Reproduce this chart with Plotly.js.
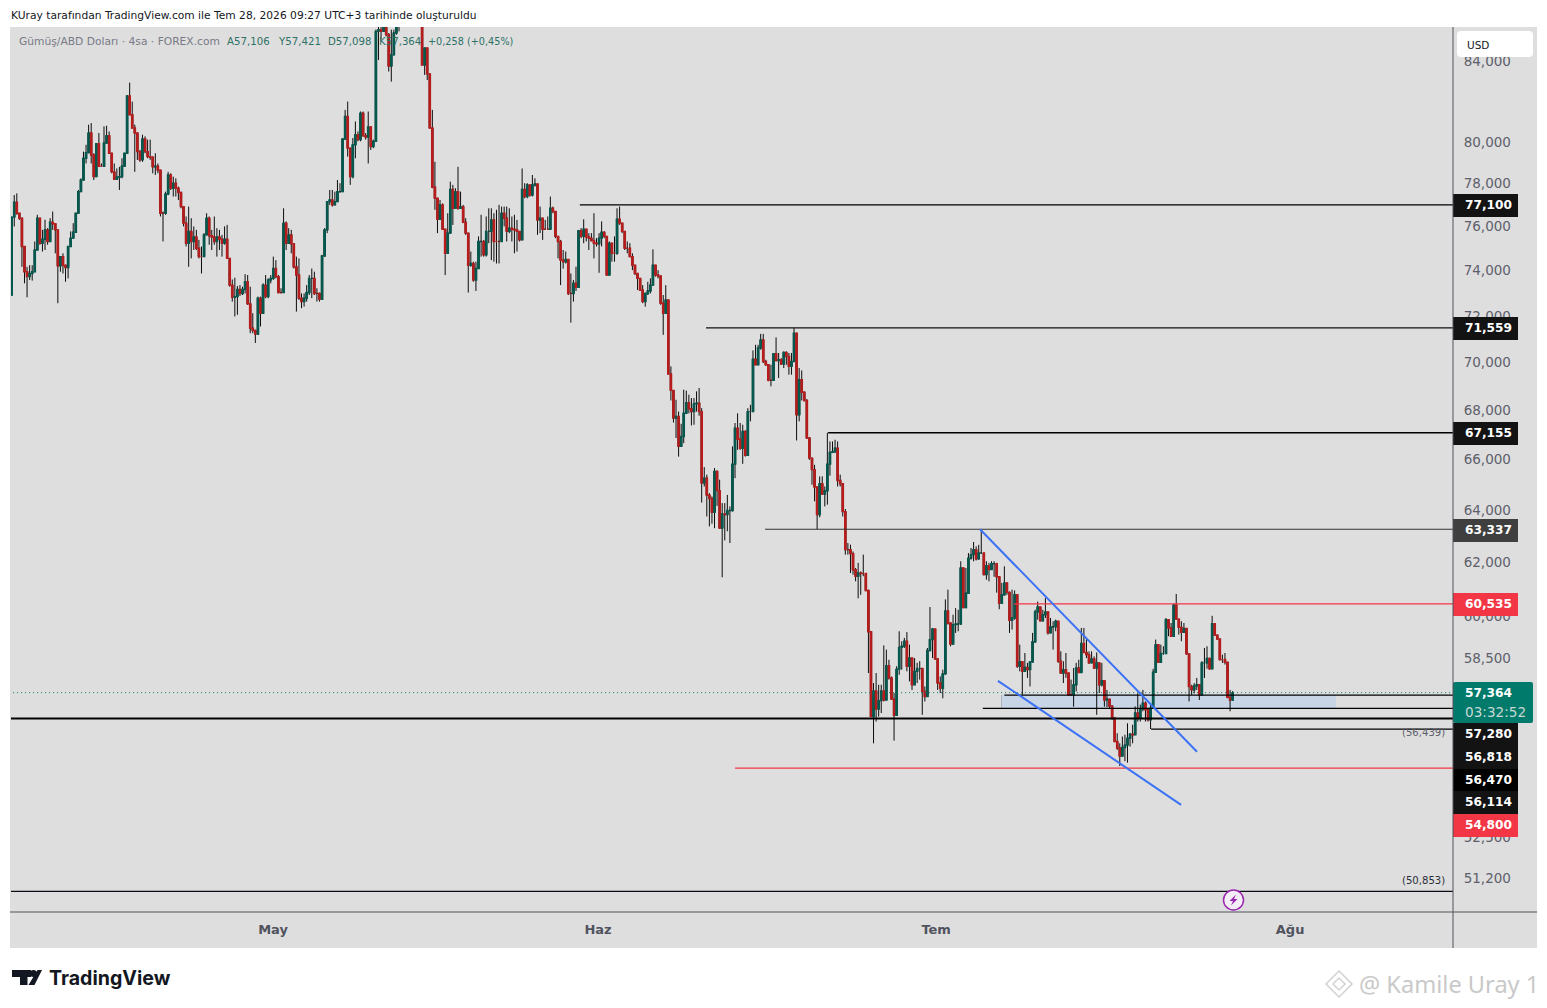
<!DOCTYPE html>
<html><head><meta charset="utf-8">
<script src="https://cdn.plot.ly/plotly-3.0.1.min.js"></script>
<style>html,body{margin:0;padding:0;background:#fff;overflow:hidden}#c{width:1547px;height:1008px}</style>
</head><body><div id="c"></div>
<script>
const opens = [73000,76530,77220,76710,76480,75180,74040,73820,73960,74040,
75020,76480,75330,75510,75940,75410,76290,76220,75940,74300,
74720,74330,74230,75180,75560,75830,76710,77720,78270,79310,
79580,80530,79470,78430,80010,78930,78930,80040,80400,79550,
78660,78300,78400,78430,78930,79550,82360,81430,80780,80530,
79630,79230,80240,79630,79390,79360,78900,78930,78740,76710,
76710,77610,78510,77880,78120,77880,77680,77020,76250,75330,
75870,75410,75610,75100,74720,74720,75710,76480,75670,75610,
75410,75610,75510,75330,75510,74640,73440,72900,72930,73250,
73070,73250,73590,72610,71550,71450,71290,72860,72200,73440,
72930,73670,73740,74180,73820,73110,73110,76250,75330,75710,
75300,74260,73890,72860,72710,72860,73110,73740,73740,73070,
73070,72810,74750,75940,77250,77330,77100,77250,77720,77720,
80240,81350,79800,78430,79960,80450,80210,81510,80400,80340,
80830,79880,80130,85650,85740,85650,86080,85480,83870,84440,
85565,86430,86600,86950,86770,87130,87040,86600,86770,86690,
86600,83920,84790,83470,80780,77930,77410,76430,77100,75970,
74870,75790,77830,76940,77720,76940,77020,76290,75790,74330,
74410,73670,74180,75410,75410,74800,75870,75870,76400,75410,
75410,75410,76710,76480,75870,76020,75970,75940,75870,75480,
77830,77490,78040,77560,78040,78080,76400,76480,75970,75970,
75970,76940,76790,75640,75410,74560,74490,74590,73070,73070,
73520,73340,75900,75640,75970,75610,75560,75450,75330,75300,
75560,75830,75640,73890,75330,74870,74870,76430,76250,75870,
75100,75100,74720,74330,73960,73740,73220,72710,73070,73180,
73440,74330,73890,73850,72640,72200,72780,69590,68900,67750,
67820,66600,67000,67950,68390,68140,68020,68340,68370,68020,
65140,65330,64660,64530,63990,65600,64840,63380,63930,63900,
64060,64060,65890,67340,66890,66520,67210,66240,68020,68020,
70220,69980,70690,71040,70120,69980,69320,69320,70450,70160,
70190,70010,70500,70330,69910,70120,71330,67890,69350,68820,
68480,66940,66130,65670,64980,63900,65110,64700,64830,65890,
66360,66390,66530,65240,65110,64020,62560,62560,62410,61800,
61560,61680,61660,61660,61030,59520,56540,57420,56800,57090,
57420,57110,58310,57880,57140,56580,58190,58960,59000,59180,
58290,58580,57640,58110,58210,58210,57410,57230,58850,59240,
59620,58550,57700,57520,58020,60280,59840,59080,59780,59800,
59800,61870,60400,60930,62240,62370,62560,62210,62430,62430,
61620,61950,61810,62030,62030,61540,60560,60870,61310,60960,
59940,60020,60870,58290,58450,58110,58250,58170,58440,59160,
60240,60420,59920,60140,60240,59480,59700,59700,59900,58470,
58050,58170,58050,57290,57290,57640,58230,58070,59100,58780,
58700,58410,58550,58230,58410,57640,57780,57110,57140,56900,
56490,55690,55470,55200,55490,55570,55800,55940,55920,56660,
56490,56800,57000,56770,56430,56830,58080,59060,58430,58740,
58740,59960,59660,59360,60500,59980,59680,59500,59640,58730,
57580,57460,57600,57640,57290,58410,58410,58570,58200,59810,
59400,59260,58530,58530,58430,57200,57106];
const closes = [76530,77220,76710,76480,75180,74040,73820,73960,74040,75020,
76480,75330,75510,75940,75410,76290,76220,75940,74300,74720,
74330,74230,75180,75560,75830,76710,77720,78270,79310,79580,
80530,79470,78430,80010,78930,78930,80040,80400,79550,78660,
78300,78400,78430,78930,79550,82360,81430,80780,80530,79630,
79230,80240,79630,79390,79360,78900,78930,78740,76710,76710,
77610,78510,77880,78120,77880,77680,77020,76250,75330,75870,
75410,75610,75100,74720,74720,75710,76480,75670,75610,75410,
75610,75510,75330,75510,74640,73440,72900,72930,73250,73070,
73250,73590,72610,71550,71450,71290,72860,72200,73440,72930,
73670,73740,74180,73820,73110,73110,76250,75330,75710,75300,
74260,73890,72860,72710,72860,73110,73740,73740,73070,73070,
72810,74750,75940,77250,77330,77100,77250,77720,77720,80240,
81350,79800,78430,79960,80450,80210,81510,80400,80340,80830,
79880,80130,85650,85740,85650,86080,85480,83870,84440,85565,
86430,86600,86950,86770,87130,87040,86600,86770,86690,86600,
83920,84790,83470,80780,77930,77410,76430,77100,75970,74870,
75790,77830,76940,77720,76940,77020,76290,75790,74330,74410,
73670,74180,75410,75410,74800,75870,75870,76400,75410,75410,
75410,76710,76480,75870,76020,75970,75940,75870,75480,77830,
77490,78040,77560,78040,78080,76400,76480,75970,75970,75970,
76940,76790,75640,75410,74560,74490,74590,73070,73070,73520,
73340,75900,75640,75970,75610,75560,75450,75330,75300,75560,
75830,75640,73890,75330,74870,74870,76430,76250,75870,75100,
75100,74720,74330,73960,73740,73220,72710,73070,73180,73440,
74330,73890,73850,72640,72200,72780,69590,68900,67750,67820,
66600,67000,67950,68390,68140,68020,68340,68370,68020,65140,
65330,64660,64530,63990,65600,64840,63380,63930,63900,64060,
64060,65890,67340,66890,66520,67210,66240,68020,68020,70220,
69980,70690,71040,70120,69980,69320,69320,70450,70160,70190,
70010,70500,70330,69910,70120,71330,67890,69350,68820,68480,
66940,66130,65670,64980,63900,65110,64700,64830,65890,66360,
66390,66530,65240,65110,64020,62560,62560,62410,61800,61560,
61680,61660,61660,61030,59520,56540,57420,56800,57090,57420,
57110,58310,57880,57140,56580,58190,58960,59000,59180,58290,
58580,57640,58110,58210,58210,57410,57230,58850,59240,59620,
58550,57700,57520,58020,60280,59840,59080,59780,59800,59800,
61870,60400,60930,62240,62370,62560,62210,62430,62430,61620,
61950,61810,62030,62030,61540,60560,60870,61310,60960,59940,
60020,60870,58290,58450,58110,58250,58170,58440,59160,60240,
60420,59920,60140,60240,59480,59700,59700,59900,58470,58050,
58170,58050,57290,57290,57640,58230,58070,59100,58780,58700,
58410,58550,58230,58410,57640,57780,57110,57140,56900,56490,
55690,55470,55200,55490,55570,55800,55940,55920,56660,56490,
56800,57000,56770,56430,56830,58080,59060,58430,58740,58740,
59960,59660,59360,60500,59980,59680,59500,59640,58730,57580,
57460,57600,57640,57290,58410,58410,58570,58200,59810,59400,
59260,58530,58530,58430,57200,57106,57364];
const highs = [76530,77560,77640,76710,76480,75180,74260,74330,74330,75410,
76640,76480,75940,76410,76020,76480,76790,76220,75940,74720,
74870,74330,75180,75870,76250,76710,77800,78350,79630,79960,
80940,81020,79550,80040,80530,79060,80860,80890,80610,79550,
79060,78820,78900,79310,79550,82410,83030,82080,80940,80530,
79710,80450,80370,80210,80210,79390,79550,79060,78740,76790,
77720,78660,78590,78430,78350,77960,77720,77020,76560,77020,
76480,76100,75940,75480,75180,75790,76710,76560,75940,76560,
76020,75940,75710,76100,76170,74640,73690,73770,73400,73440,
73370,73930,73890,73370,72200,71480,72930,72930,73520,73890,
73740,73890,74720,74560,73890,73300,76940,76330,76020,75940,
75330,74720,74640,73070,73070,73440,73890,74180,74040,73300,
73110,74800,76020,77250,77800,77800,77720,78270,78120,80290,
81670,82080,79800,80290,81100,80610,81590,81590,80530,81590,
80860,80210,85740,85910,86080,86600,86080,85565,85740,85740,
86770,87130,87470,87300,87650,87560,87130,87300,87210,87040,
86770,84790,83920,83470,81670,79140,77410,77330,77170,75940,
76710,78190,78040,77880,78900,77720,77100,76480,75790,74950,
74490,74490,75640,76640,75480,76560,76940,76940,76710,76870,
77100,77020,77020,77020,76940,76560,76640,76400,75790,78820,
78120,78120,78040,78510,78350,78080,77020,76480,76400,76560,
77490,77020,76790,75640,75480,75020,74950,74590,73960,73670,
74260,75940,76020,76430,75970,75790,75790,76710,75560,75790,
76330,75870,75640,75410,75330,75640,76940,77020,76250,75870,
75410,75330,74870,74330,73960,73740,73440,73110,73590,73740,
75050,74330,74110,73850,73000,73440,72780,69910,68900,68510,
68020,67520,68930,68890,68720,68580,68580,68860,69000,68160,
65770,65470,64740,64610,65730,65640,65270,64350,64350,64670,
64220,66600,67550,67950,67550,67480,67250,68160,68300,70590,
70830,70830,71300,71300,70190,69980,69980,70480,71150,70480,
70260,70550,70550,70480,70480,71550,71330,69840,69740,68860,
68540,66980,66130,65860,65000,65400,65400,65000,67155,66800,
66800,66870,66800,65470,65140,64120,62810,62750,62490,61870,
62060,61740,62370,61680,61060,59540,57700,58050,57640,57640,
59030,58880,58520,57930,57350,58290,59540,59180,59300,59510,
59060,58580,58580,58410,58470,58230,57580,58940,60420,59660,
59620,58580,57930,58170,60700,61060,59840,60140,60380,60320,
62120,61870,61870,62430,62620,62850,62680,62740,63337,62430,
62120,62060,62120,62120,62060,61560,61310,61930,61310,60990,
61060,61030,60870,59060,58470,58760,58410,58470,59480,60320,
60620,60420,60320,60750,60260,60020,59900,59960,59900,58820,
58470,58760,58050,57820,58230,58410,58520,59660,59660,59300,
58820,58820,58640,58780,58410,58410,57780,57460,57140,56930,
56430,55970,55630,55860,55920,56310,55970,56260,56890,57340,
56950,57460,57060,56830,57000,58200,59240,59060,59060,59000,
60020,59980,59840,60540,60900,59980,59900,59840,59640,58730,
57640,57700,57880,57640,58470,58940,59000,58590,60100,59810,
59420,59260,58700,58760,58430,57460,57421];
const lows = [73000,76100,76640,76400,74260,73520,72900,73670,73640,74040,
75260,75260,74950,75020,75260,75410,75940,74870,72640,74040,
73960,73590,73740,75180,75560,75830,76710,77720,78270,79060,
79550,79060,78270,78430,78900,78900,78930,80040,79520,78590,
78270,78270,77800,78350,78900,79550,81430,80780,78660,79230,
79140,79140,79550,79310,79230,78590,78510,78590,76560,75410,
76640,77560,77800,77490,77490,77330,76940,76100,75180,74260,
74640,75020,75020,74640,73960,74720,75710,75260,75020,75260,
74720,75020,74720,75260,74640,73370,72710,72060,72130,72960,
73000,73070,72570,71330,71330,70910,71260,71620,72200,72860,
72860,73520,73670,73740,73070,73070,73110,75020,75330,74870,
74180,72270,72780,72420,72490,72710,73000,72860,73000,72710,
72710,72810,74720,75790,77100,77020,77100,77330,77680,77720,
80210,79390,78040,78350,79310,80130,80130,80370,80210,79060,
79710,79800,80130,84180,85220,85650,85390,83590,83080,84440,
85480,85650,86430,86430,86600,86520,86260,86350,86260,86080,
83920,83420,83160,80780,77880,76870,75790,76400,75940,73890,
74870,75790,76170,76940,76870,76940,76250,75710,73110,74260,
73590,73180,74180,74720,74720,74720,75330,74560,74490,74410,
74410,75410,76100,75410,75790,75410,74870,74950,75410,75480,
77410,77410,77490,77490,77960,75710,75790,75480,75940,75940,
75940,76710,75560,74640,73440,74180,74410,73000,71790,72710,
73180,73340,75560,75330,75410,75020,75410,74640,75180,73990,
75180,75560,73850,73890,74490,74490,74800,76170,75790,75020,
74870,74690,74110,73890,73220,73180,72640,72490,73000,73070,
73440,73820,73740,72570,71260,72200,69590,68480,67570,66940,
66190,66600,66730,67950,67950,67450,67480,68020,67850,64370,
65000,63830,63450,63550,63380,64240,63350,61520,62910,63260,
62810,64020,65330,66460,66460,65900,66190,66240,67620,68020,
69980,69980,70620,70050,69940,69280,69070,69320,70120,69420,
69980,69840,69980,69560,69560,70120,66840,67620,68480,68440,
66900,66060,65070,64420,63337,63800,64670,64220,64290,65430,
66330,66330,65000,65000,63830,62370,62370,61680,61620,61370,
60740,60870,61560,61000,58050,56540,55630,56370,56540,56660,
57060,57230,57820,57110,55720,56580,57990,58170,58940,58110,
57760,57460,57760,57700,57820,56600,57060,57230,58820,58580,
58520,57460,57350,57170,57990,59780,59000,59060,59480,59540,
59780,60380,60380,60910,62180,62120,62150,62180,62430,61590,
61430,61370,61810,61540,60950,60340,60560,60840,60870,59480,
59600,59960,58230,58110,57290,58110,57880,57580,58440,59120,
59960,59900,59900,60020,59420,59480,58880,59540,58410,58030,
57700,57880,57260,57290,56880,57410,58050,58070,58760,58580,
58380,58410,58190,56600,57350,57580,56880,56860,56820,56430,
55670,55410,54870,55200,55030,54980,55520,55630,55920,56370,
56370,56720,56370,56370,56114,56830,58060,58410,58430,58700,
58740,59360,59340,59360,59960,59420,59180,59480,58700,57060,
57290,57340,57460,57110,57290,57880,58200,58170,58200,59380,
59240,58490,58410,58350,57170,56720,57098];

const scalePrices = [84000,80000,78000,76000,74000,72000,70000,68000,66000,64000,62000,60000,58500,52500,51200];
const scaleLabels = ['84,000','80,000','78,000','76,000','74,000','72,000','70,000','68,000','66,000','64,000','62,000','60,000','58,500','52,500','51,200'];
const monthBars = [101.9,228.6,360.4,498.4];
const monthLabels = ['May','Haz','Tem','Ağu'];

const levelPrices = [77100,71559,67155,63337,60535,57280,56818,56470,56114,54800,50853];
const levelStarts = [221.5,270.7,318.3,293.7,390.8,387,378.6,-1,444.2,282,-1];
const levelColors = ['#000','#111','#000','#333','#f23645','#000','#000','#000','#000','#f23645','#0a0d16'];
const levelWidths = [1.2,1.2,1.4,1.2,1.1,1.2,1.2,2,1.2,1.1,1.2];

const lastPrice = 57364;
const trendBars = [[377.5,462.1],[384.5,455.9]];
const trendPrices = [[63337,55346],[57778,53594]];
const zone = {b0:385.9,b1:516.3,p0:57280,p1:56818};

const topPrice = 85878, bottomPrice = 50223, lastBarSlot = 561.9;
const W=1547,H=1008,L=11,R=1453,T=27,B=912;
const px=x=>(x-L)/(R-L), py=y=>(B-y)/(B-T);
const bars = closes.map((_,i)=>i);
const bodyHi = closes.map((c,i)=>Math.max(c,opens[i]));
const bodyLo = closes.map((c,i)=>Math.min(c,opens[i]));

const traces = [
 {type:'candlestick',x:bars,open:opens,high:highs,low:lows,close:closes,hoverinfo:'skip',showlegend:false,
  increasing:{line:{color:'#0c0c0c',width:1},fillcolor:'#0c0c0c'},decreasing:{line:{color:'#0c0c0c',width:1},fillcolor:'#0c0c0c'}},
 {type:'candlestick',x:bars,open:opens,high:bodyHi,low:bodyLo,close:closes,hoverinfo:'skip',showlegend:false,
  increasing:{line:{color:'#04584d',width:1.4},fillcolor:'#0b7a69'},decreasing:{line:{color:'#b71c1c',width:1.4},fillcolor:'#b71c1c'}}
];
levelPrices.forEach((p,i)=>traces.push({type:'scatter',mode:'lines',x:[levelStarts[i],lastBarSlot],y:[p,p],hoverinfo:'skip',showlegend:false,
  line:{color:levelColors[i],width:levelWidths[i]}}));
traces.push({type:'scatter',mode:'lines',x:[-1,lastBarSlot],y:[lastPrice,lastPrice],hoverinfo:'skip',showlegend:false,line:{color:'#00796b',width:1,dash:'1px,3px'}});
trendBars.forEach((b,i)=>traces.push({type:'scatter',mode:'lines',x:b,y:trendPrices[i],hoverinfo:'skip',showlegend:false,line:{color:'#3c72f5',width:2}}));

function rrect(x0,y0,x1,y1,r){
 const X=px,Y=py;
 return `M${X(x0+r)},${Y(y0)} L${X(x1-r)},${Y(y0)} Q${X(x1)},${Y(y0)} ${X(x1)},${Y(y0+r)} L${X(x1)},${Y(y1-r)} Q${X(x1)},${Y(y1)} ${X(x1-r)},${Y(y1)} L${X(x0+r)},${Y(y1)} Q${X(x0)},${Y(y1)} ${X(x0)},${Y(y1-r)} L${X(x0)},${Y(y0+r)} Q${X(x0)},${Y(y0)} ${X(x0+r)},${Y(y0)} Z`;
}
function poly(pts){return 'M'+pts.map(p=>px(p[0])+','+py(p[1])).join(' L')+' Z';}
const pRect=(x0,y0,x1,y1,fill,layer)=>({type:'rect',xref:'paper',yref:'paper',x0:px(x0),x1:px(x1),y0:py(y1),y1:py(y0),fillcolor:fill,line:{width:0},layer:layer||'above'});
const pLine=(x0,y0,x1,y1,col,w,layer)=>({type:'line',xref:'paper',yref:'paper',x0:px(x0),x1:px(x1),y0:py(y0),y1:py(y1),line:{color:col,width:w},layer:layer||'above'});
const pPath=(d,fill,lc,lw,layer)=>({type:'path',xref:'paper',yref:'paper',path:d,fillcolor:fill,line:{color:lc||fill,width:lw||0},layer:layer||'above'});

const boxes = [[194,217,'#131313'],[317,340,'#131313'],[422,445,'#131313'],[519,542,'#3f3f3f'],[593,616,'#f23645'],
 [723,746,'#131313'],[746,769,'#131313'],[769,791,'#000'],[791,814,'#131313'],[814,837,'#f23645']];
const shapes = [
 pRect(10,27,1537,948,'#dedede','below'),
 {type:'rect',xref:'x',yref:'y',x0:zone.b0,x1:zone.b1,y0:zone.p1,y1:zone.p0,fillcolor:'#c8d5e6',line:{width:0},layer:'below'},
 pLine(1001.5,695,1001.5,709,'#999',1,'below'),
 ...boxes.map(b=>pRect(1453,b[0],1518,b[1],b[2])),
 pPath(rrect(1453,682,1533,723,2),'#007a6a'),
 pPath(rrect(1457,31,1533,57,4),'#ffffff'),
 pLine(1453,27,1453,948,'#50535e',1),
 pLine(10,912,1537,912,'#50535e',1),
 {type:'circle',xref:'paper',yref:'paper',x0:px(1223.5),x1:px(1243.5),y0:py(910),y1:py(890),fillcolor:'#f4eef6',line:{color:'#9c27b0',width:1.5},layer:'above'},
 pPath(poly([[1236,894.5],[1229.5,901],[1233,901],[1231,905.5],[1237.5,899],[1234,899]]),'#9c27b0'),
 pPath(poly([[12,970],[31,970],[31,977],[27.5,977],[27.5,985],[20,985],[20,977],[12,977]]),'#131722'),
 {type:'circle',xref:'paper',yref:'paper',x0:px(30),x1:px(37),y0:py(977),y1:py(970),fillcolor:'#131722',line:{width:0},layer:'above'},
 pPath(poly([[37.5,970],[42,970],[34.5,985],[28.5,985]]),'#131722'),
 pPath(poly([[1339,971],[1352,984],[1339,997],[1326,984]]),'rgba(0,0,0,0)','#d2d2d2',1.5),
 pPath(poly([[1339,978],[1345,984],[1339,990],[1333,984]]),'rgba(0,0,0,0)','#d2d2d2',1.5)
];

const F='"DejaVu Sans",sans-serif';
const txt=(x,y,t,size,color,o)=>Object.assign({xref:'paper',yref:'paper',x:px(x),y:py(y),text:t,showarrow:false,xanchor:'left',yanchor:'middle',align:'left',
  borderpad:0,font:{family:F,size:size,color:color}},o||{});
const lab=(y,t,c)=>txt(1463.5,y,t,12.2,c||'#ffffff',{font:{family:F,size:12.2,color:c||'#ffffff',weight:'bold'}});
const annotations=[
 txt(9.5,15.5,'KUray tarafından TradingView.com ile Tem 28, 2026 09:27 UTC+3 tarihinde oluşturuldu',10.7,'#131722'),
 txt(17.5,42,'Gümüş/ABD Doları · 4sa · FOREX.com',10.7,'#787b86'),
 txt(226,42,'A57,106',10.2,'#2e7166'),txt(277,42,'Y57,421',10.2,'#2e7166'),txt(327,42,'D57,098',10.2,'#2e7166'),
 txt(378,42,'K57,364',10.2,'#2e7166'),txt(427,42,'+0,258 (+0,45%)',9.7,'#2e7166'),
 txt(1466,45,'USD',10.5,'#131722'),
 lab(205,'77,100'),lab(328,'71,559'),lab(433,'67,155'),lab(530,'63,337'),lab(604,'60,535'),
 lab(693,'57,364'),txt(1464,712,'03:32:52',13.6,'#c7d8d4'),
 lab(734,'57,280'),lab(757,'56,818'),lab(780,'56,470'),lab(802,'56,114'),lab(825,'54,800'),
 txt(1401,732,'(56,439)',10.1,'#5d606b'),txt(1401,880,'(50,853)',10.1,'#2a2e39'),
 txt(48,978,'TradingView',19.6,'#131722',{font:{family:'Inter,sans-serif',size:19.6,color:'#131722',weight:'bold'}}),
 txt(1358,984,'@ Kamile Uray 1',23.6,'#c9c9c9',{font:{family:'"Noto Sans",sans-serif',size:23.6,color:'#c9c9c9'}})
];

const layout={width:W,height:H,margin:{l:L,r:W-R,t:T,b:H-B,pad:0},paper_bgcolor:'#ffffff',plot_bgcolor:'rgba(0,0,0,0)',showlegend:false,boxmode:'overlay',
 xaxis:{type:'linear',range:[(L-11.67)/2.565,lastBarSlot],rangeslider:{visible:false},showgrid:false,zeroline:false,showline:false,
  tickmode:'array',tickvals:monthBars,ticktext:monthLabels,ticks:'outside',ticklen:5,tickcolor:'rgba(0,0,0,0)',
  tickfont:{family:F,size:13,color:'#50535e',weight:'bold'}},
 yaxis:{type:'log',side:'right',range:[Math.log10(bottomPrice),Math.log10(topPrice)],showgrid:false,zeroline:false,showline:false,
  tickmode:'array',tickvals:scalePrices,ticktext:scaleLabels,ticks:'outside',ticklen:7,tickcolor:'rgba(0,0,0,0)',ticklabelshift:-2,
  tickfont:{family:F,size:13.5,color:'#5d606b'}},
 shapes,annotations};
Plotly.newPlot('c',traces,layout,{staticPlot:true,displayModeBar:false});
</script></body></html>
